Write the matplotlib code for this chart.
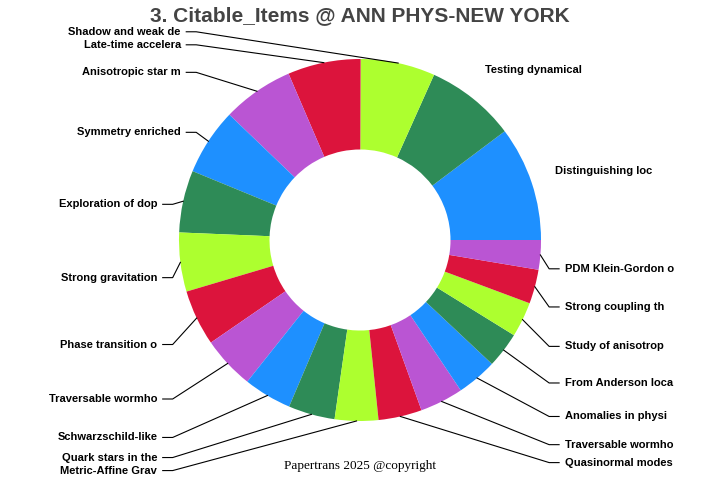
import numpy as np
import matplotlib.pyplot as plt

plt.rcParams['font.family'] = ['Liberation Sans', 'DejaVu Sans']

# ── データ ────────────────────────────────────────────────────────────────
labels = [
    "Distinguishing loc", "Testing dynamical", "Shadow and weak de",
    "Late-time accelera", "Anisotropic star m", "Symmetry enriched",
    "Exploration of dop", "Strong gravitation", "Phase transition o",
    "Traversable wormho", "Schwarzschild-like", "Quark stars in the",
    "Metric-Affine Grav", "Quasinormal modes", "Traversable wormho",
    "Anomalies in physi", "From Anderson loca", "Study of anisotrop",
    "Strong coupling th", "PDM Klein-Gordon o",
]
values = [37, 29, 24, 23.5, 23, 21.5, 20, 19, 18, 17,
          15.5, 15, 14, 14, 14, 13, 11.5, 11.3, 11, 9.5]
colors = ["#1E90FF", "#2E8B57", "#ADFF2F", "#DC143C", "#BA55D3"]

title = "3. Citable_Items @ ANN PHYS-NEW YORK"
footer = "Papertrans 2025 @copyright"

# ── 図 ────────────────────────────────────────────────────────────────────
fig = plt.figure(figsize=(7.2, 4.8), dpi=100)
ax = fig.add_axes([0, 0, 1, 1])
R_PX = 181

wcolors = [colors[i % len(colors)] for i in range(len(values))]
wedges, _ = ax.pie(values, colors=wcolors, startangle=0, radius=1.0,
                   wedgeprops=dict(width=0.5, linewidth=0),
                   frame=True)
ax.set_xlim(-360 / R_PX, 360 / R_PX)
ax.set_ylim(-240 / R_PX, 240 / R_PX)
ax.set_aspect("equal")
ax.axis("off")

total = sum(values)
left, right = [], []
for i, w in enumerate(wedges):
    mid = np.deg2rad((w.theta1 + w.theta2) / 2)
    share = values[i] / total
    if share > 0.075:
        # 大きい扇形はラベルだけ（引き出し線なし）
        ax.text(1.2 * np.cos(mid) - 0.06, 1.2 * np.sin(mid), labels[i],
                ha="left", va="center", fontsize=8, fontweight="bold")
        continue
    deg = np.rad2deg(mid)
    if 70 < deg < 280:
        left.append([i, mid, 1.2 * np.sin(mid) - 0.06])
    else:
        right.append([i, mid, 1.2 * np.sin(mid) - 0.06])


def spread(items, gap=0.072):
    # 上から順に並べ、重なったラベルを上下に押し広げる
    for _ in range(200):
        moved = False
        for a, b in zip(items[:-1], items[1:]):
            d = a[2] - b[2]
            if d < gap:
                shift = (gap - d) / 2
                a[2] += shift
                b[2] -= shift
                moved = True
        if not moved:
            break
    return items


left.sort(key=lambda t: t[1])     # 左側：角度の小さい順 = 上から
right.sort(key=lambda t: -t[2])   # 右側：y の大きい順

for side, items in ((-1, left), (1, right)):
    for i, mid, y in spread(items):
        if side < 0:
            tx = -0.99 if y > 0.4 else -1.12
        else:
            tx = 1.13
        ex = tx - side * 0.085
        hx = tx - side * 0.03
        px, py = np.cos(mid), np.sin(mid)
        ax.plot([px, ex, hx], [py, y, y], color="black", linewidth=0.8)
        ax.text(tx, y, labels[i], ha="left" if side > 0 else "right",
                va="center", fontsize=8, fontweight="bold")

fig.text(0.5, 0.968, title, ha="center", va="center", fontsize=15,
         fontweight="bold", color="#444444")
fig.text(0.5, 0.03, footer, ha="center", va="center", fontsize=9.5,
         family=["Liberation Serif", "DejaVu Serif"])

fig.savefig("out.png", dpi=100)
